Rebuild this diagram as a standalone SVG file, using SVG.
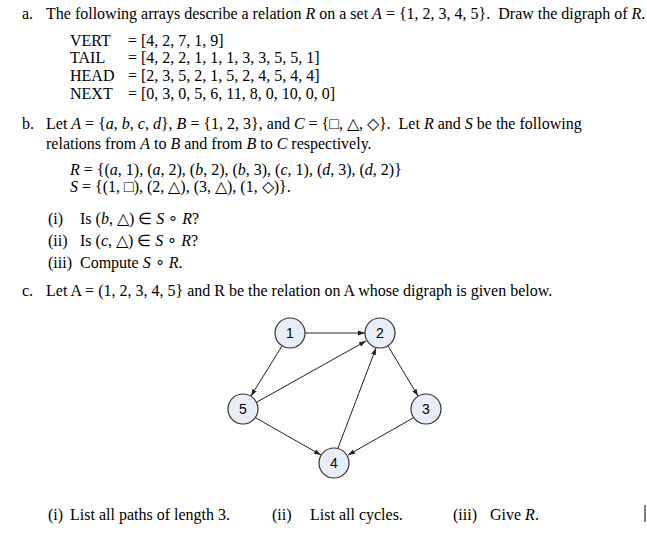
<svg xmlns="http://www.w3.org/2000/svg" width="647" height="537" viewBox="0 0 647 537" xml:space="preserve">
<style>
text{font-family:"Liberation Serif",serif;font-size:16px;fill:#000;white-space:pre}
.n circle{fill:#e8edf7;stroke:#333;stroke-width:1.2}
.n text{font-family:"Liberation Sans",sans-serif;font-size:14px;text-anchor:middle}
.e line{stroke:#222;stroke-width:1}
</style>
<defs><marker id="a" viewBox="0 0 10 10" refX="10" refY="5" markerWidth="7" markerHeight="7" orient="auto"><path d="M0,1.5L10,5L0,8.5z" fill="#222"/></marker></defs>
<rect width="647" height="537" fill="#fff"/>
<text x="22" y="19">a.</text><text x="46" y="19">The following arrays describe a relation <tspan font-style="italic">R</tspan> on a set <tspan font-style="italic">A</tspan> = {1, 2, 3, 4, 5}.  Draw the digraph of <tspan font-style="italic">R</tspan>.</text>
<text x="70" y="46">VERT</text><text x="128" y="46">= [4, 2, 7, 1, 9]</text>
<text x="70" y="63">TAIL</text><text x="128" y="63">= [4, 2, 2, 1, 1, 1, 3, 3, 5, 5, 1]</text>
<text x="70" y="81">HEAD</text><text x="128" y="81">= [2, 3, 5, 2, 1, 5, 2, 4, 5, 4, 4]</text>
<text x="70" y="99">NEXT</text><text x="128" y="99">= [0, 3, 0, 5, 6, 11, 8, 0, 10, 0, 0]</text>
<text x="22" y="129">b.</text><text x="46" y="129">Let <tspan font-style="italic">A</tspan> = {<tspan font-style="italic">a</tspan>, <tspan font-style="italic">b</tspan>, <tspan font-style="italic">c</tspan>, <tspan font-style="italic">d</tspan>}, <tspan font-style="italic">B</tspan> = {1, 2, 3}, and <tspan font-style="italic">C</tspan> = {□, △, ◇}.  Let <tspan font-style="italic">R</tspan> and <tspan font-style="italic">S</tspan> be the following</text>
<text x="46" y="149">relations from <tspan font-style="italic">A</tspan> to <tspan font-style="italic">B</tspan> and from <tspan font-style="italic">B</tspan> to <tspan font-style="italic">C</tspan> respectively.</text>
<text x="70" y="175"><tspan font-style="italic">R</tspan> = {(<tspan font-style="italic">a</tspan>, 1), (<tspan font-style="italic">a</tspan>, 2), (<tspan font-style="italic">b</tspan>, 2), (<tspan font-style="italic">b</tspan>, 3), (<tspan font-style="italic">c</tspan>, 1), (<tspan font-style="italic">d</tspan>, 3), (<tspan font-style="italic">d</tspan>, 2)}</text>
<text x="70" y="192"><tspan font-style="italic">S</tspan> = {(1, □), (2, △), (3, △), (1, ◇)}.</text>
<text x="48" y="224">(i)</text><text x="80" y="224">Is (<tspan font-style="italic">b</tspan>, △) ∈ <tspan font-style="italic">S</tspan> ∘ <tspan font-style="italic">R</tspan>?</text>
<text x="48" y="246">(ii)</text><text x="80" y="246">Is (<tspan font-style="italic">c</tspan>, △) ∈ <tspan font-style="italic">S</tspan> ∘ <tspan font-style="italic">R</tspan>?</text>
<text x="48" y="268">(iii)</text><text x="80" y="268">Compute <tspan font-style="italic">S</tspan> ∘ <tspan font-style="italic">R</tspan>.</text>
<text x="22" y="296">c.</text><text x="46" y="296">Let A = (1, 2, 3, 4, 5} and R be the relation on A whose digraph is given below.</text>
<g class="e">
<line x1="305" y1="333" x2="365" y2="333" marker-end="url(#a)"/>
<line x1="282" y1="346" x2="251" y2="396" marker-end="url(#a)"/>
<line x1="257" y1="402" x2="366" y2="341" marker-end="url(#a)"/>
<line x1="388" y1="346" x2="418" y2="396" marker-end="url(#a)"/>
<line x1="413" y1="418" x2="348" y2="455" marker-end="url(#a)"/>
<line x1="256" y1="418" x2="321" y2="455" marker-end="url(#a)"/>
<line x1="338" y1="448" x2="376" y2="348" marker-end="url(#a)"/>
</g>
<g id="n1" class="n"><circle cx="290" cy="333" r="15"/><text x="290" y="338">1</text></g>
<g id="n2" class="n"><circle cx="380" cy="333" r="15"/><text x="380" y="338">2</text></g>
<g id="n3" class="n"><circle cx="426" cy="409" r="15"/><text x="426" y="414">3</text></g>
<g id="n4" class="n"><circle cx="334" cy="463" r="15"/><text x="334" y="468">4</text></g>
<g id="n5" class="n"><circle cx="243" cy="409" r="15"/><text x="243" y="414">5</text></g>
<text x="48" y="520">(i)</text><text x="70" y="520">List all paths of length 3.</text>
<text x="272" y="520">(ii)</text><text x="310" y="520">List all cycles.</text>
<text x="453" y="520">(iii)</text><text x="490" y="520">Give <tspan font-style="italic">R</tspan>.</text>
<line x1="645" y1="505" x2="645" y2="522" stroke="#000"/>
</svg>
